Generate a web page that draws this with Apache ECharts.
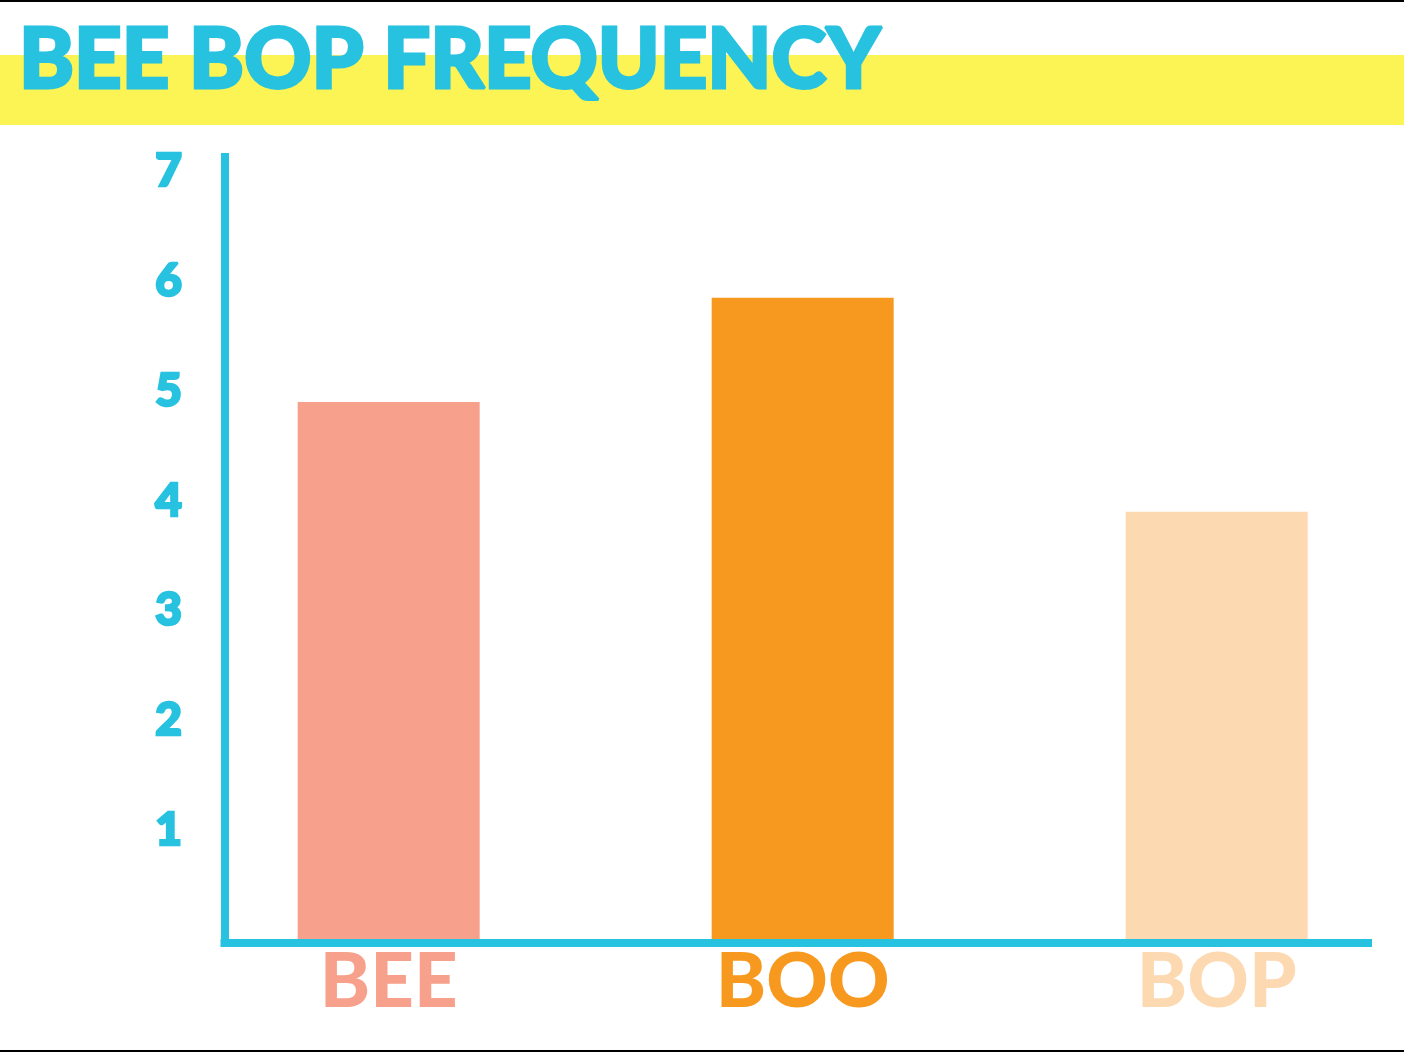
<!DOCTYPE html>
<html><head><meta charset="utf-8">
<script src="https://cdn.jsdelivr.net/npm/echarts@6/dist/echarts.min.js"></script>
<style>html,body{margin:0;padding:0;background:#fff}#c{width:1404px;height:1052px}</style>
</head><body><div id="c"></div>
<script>
const titleText = 'BEE BOP FREQUENCY';
const categories = ['BEE', 'BOO', 'BOP'];
const values = [4.9, 5.85, 3.9];
const barColors = ['#F7A18C', '#F8991F', '#FDD9B1'];
const yMin = 0, yMax = 7.17, yInterval = 1;

const CYAN = '#27C2E0';
const FONT = 'Lato';
const BASE = 939.5;

const chart = echarts.init(document.getElementById('c'), null, {renderer: 'canvas'});
chart.setOption({
  backgroundColor: '#ffffff',
  animation: false,
  title: {
    text: titleText, left: 19, top: 20, padding: 0, z: 10,
    textStyle: {fontFamily: FONT, fontWeight: 900, fontSize: 83, color: CYAN,
      textBorderColor: CYAN, textBorderWidth: 3}
  },
  graphic: [
    {type: 'rect', shape: {x: 0, y: 55, width: 1404, height: 70}, style: {fill: '#FCF454'}, z: -10, silent: true},
    {type: 'rect', shape: {x: 0, y: 0, width: 1404, height: 2}, style: {fill: '#000'}, silent: true},
    {type: 'rect', shape: {x: 0, y: 1050, width: 1404, height: 2}, style: {fill: '#000'}, silent: true}
  ],
  grid: [
    {left: 224.5, right: 36, top: 153, bottom: 1052 - BASE, outerBoundsMode: 'none', containLabel: false},
    {left: 181.67, width: 1242, top: 153, bottom: 1052 - BASE, outerBoundsMode: 'none', containLabel: false}
  ],
  xAxis: [
    {
      type: 'value', gridIndex: 0, min: 0, max: 1, offset: 3.5, z: 5,
      axisLine: {show: true, onZero: false, lineStyle: {color: CYAN, width: 8, cap: 'square'}},
      axisTick: {show: false}, axisLabel: {show: false}, splitLine: {show: false}
    },
    {
      type: 'category', gridIndex: 1, data: categories,
      axisLine: {show: false}, axisTick: {show: false}, splitLine: {show: false},
      axisLabel: {
        margin: 5, fontFamily: FONT, fontWeight: 900, fontSize: 76, interval: 0,
        color: function (v, i) { return barColors[categories.indexOf(v)]; },
        textBorderColor: 'inherit', textBorderWidth: 2
      }
    }
  ],
  yAxis: [
    {
      type: 'value', gridIndex: 0, min: yMin, max: yMax, interval: yInterval, z: 5,
      axisLine: {show: true, onZero: false, lineStyle: {color: CYAN, width: 8, cap: 'butt'}},
      axisTick: {show: false}, splitLine: {show: false},
      axisLabel: {
        margin: 56, align: 'center', fontFamily: FONT, fontWeight: 900, fontSize: 46, color: CYAN,
        textBorderColor: CYAN, textBorderWidth: 2.5,
        showMaxLabel: false,
        formatter: function (v) { return (v > 0 && Math.abs(v - Math.round(v)) < 1e-6) ? String(Math.round(v)) : ''; }
      }
    },
    {type: 'value', gridIndex: 1, min: yMin, max: yMax, show: false}
  ],
  series: [{
    type: 'bar', xAxisIndex: 1, yAxisIndex: 1, data: values, barWidth: 182,
    itemStyle: {color: function (p) { return barColors[p.dataIndex]; }}
  }]
});
</script></body></html>
